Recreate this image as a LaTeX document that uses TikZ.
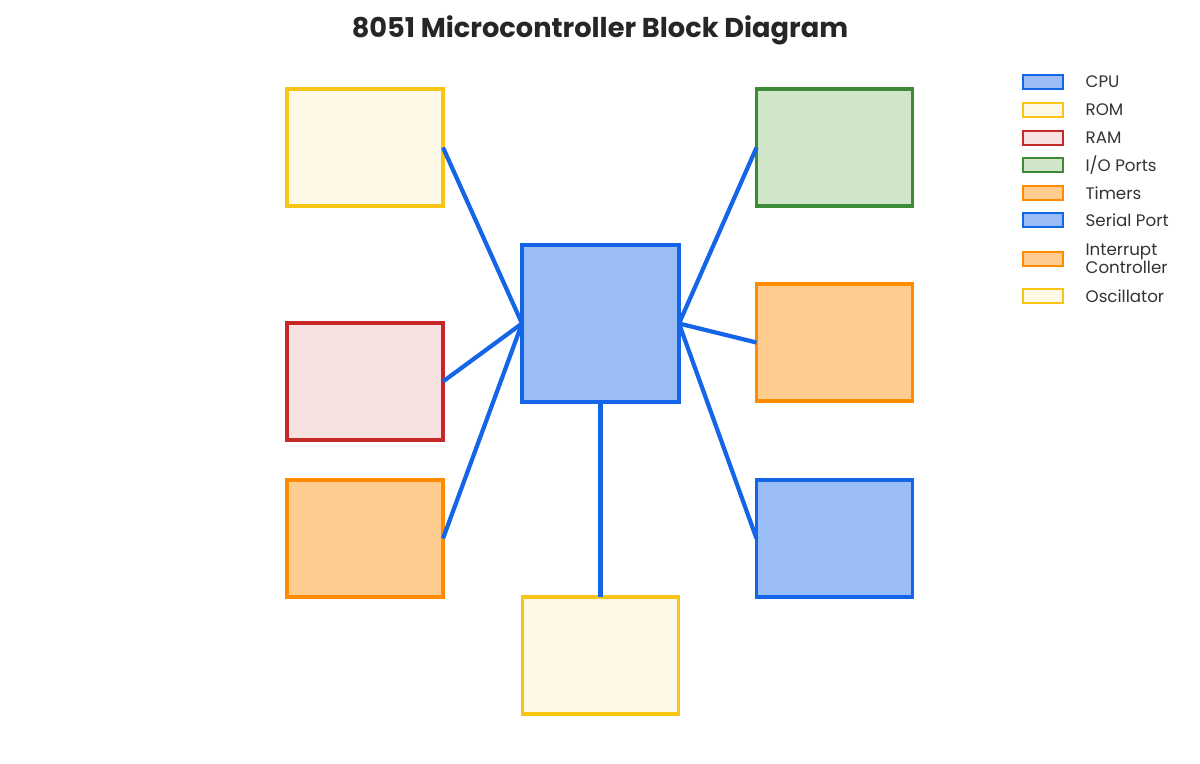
\documentclass[tikz,border=0pt]{standalone}
\usepackage{fontspec}
\setmainfont{Poppins}
\definecolor{bluel}{HTML}{1565E8}\definecolor{bluef}{HTML}{9ABDF5}
\definecolor{yell}{HTML}{F9C515}\definecolor{yelf}{HTML}{FEF8E7}
\definecolor{redl}{HTML}{C62828}\definecolor{redf}{HTML}{F8E1E1}
\definecolor{grnl}{HTML}{3D8B37}\definecolor{grnf}{HTML}{CFE6C9}
\definecolor{orgl}{HTML}{FF8C00}\definecolor{orgf}{HTML}{FFCC8F}
\tikzset{
  blk/.style={draw, line width=2pt, minimum width=3.12cm, minimum height=2.34cm, inner sep=0pt, outer sep=0pt},
  cpu/.style={blk, draw=bluel, fill=bluef, minimum width=3.14cm, minimum height=3.14cm, line width=2.5pt},
  rom/.style={blk, draw=yell, fill=yelf},
  ram/.style={blk, draw=redl, fill=redf},
  io/.style={blk, draw=grnl, fill=grnf},
  tmr/.style={blk, draw=orgl, fill=orgf},
  ser/.style={blk, draw=bluel, fill=bluef},
  bus/.style={draw=bluel, line width=2.4pt},
  key/.style={draw, line width=1.6pt, minimum width=0.8cm, minimum height=0.28cm, inner sep=0pt},
  keytxt/.style={anchor=west, font=\fontsize{9.5}{10}\selectfont, text=black!80, align=left}
}
\begin{document}
\begin{tikzpicture}
  \useasboundingbox (0,0) rectangle (24,-15.26);
  \node[font=\fontsize{15.5}{18}\selectfont\bfseries, text=black!85] (title) at (12,-0.6) {8051 Microcontroller Block Diagram};
  % blocks
  \node[cpu] (cpu) at (12.01,-6.47) {};
  \node[rom] (rom) at (7.3,-2.95) {};
  \node[ram] (ram) at (7.3,-7.63) {};
  \node[tmr] (tmr) at (7.3,-10.77) {};
  \node[rom] (osc) at (12.01,-13.11) {};
  \node[io] (io) at (16.69,-2.95) {};
  \node[tmr] (intr) at (16.69,-6.85) {};
  \node[ser] (ser) at (16.69,-10.77) {};
  % buses
  \draw[bus] (rom.east) -- (cpu.west);
  \draw[bus] (ram.east) -- (cpu.west);
  \draw[bus] (tmr.east) -- (cpu.west);
  \draw[bus] (cpu.south) -- (osc.north);
  \draw[bus] (cpu.east) -- (io.west);
  \draw[bus] (cpu.east) -- (intr.west);
  \draw[bus] (cpu.east) -- (ser.west);
  % legend
  \foreach \y/\ln/\fl/\txt [count=\i] in {
      1.64/bluel/bluef/CPU, 2.2/yell/yelf/ROM, 2.76/redl/redf/RAM,
      3.3/grnl/grnf/I\slash O Ports, 3.86/orgl/orgf/Timers, 4.4/bluel/bluef/Serial Port,
      5.18/orgl/orgf/{Interrupt\\Controller}, 5.92/yell/yelf/Oscillator} {
    \node[key, draw=\ln, fill=\fl] (key\i) at (20.86,-\y) {};
    \node[keytxt] (lbl\i) at ([xshift=0.3cm]key\i.east) {\txt};
  }
\end{tikzpicture}
\end{document}
